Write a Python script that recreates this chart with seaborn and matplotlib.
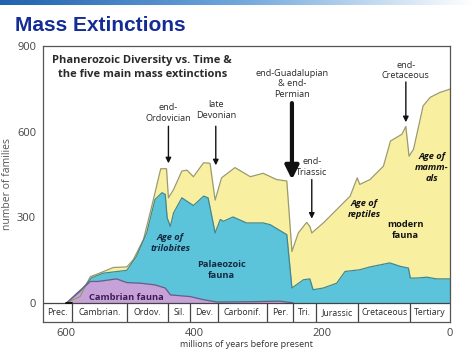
import numpy as np
import matplotlib
matplotlib.use("Agg")
import matplotlib.pyplot as plt
import seaborn as sns
from matplotlib.colors import LinearSegmentedColormap

# ages in millions of years before present, values in number of families
# (each list is the top edge of a stacked layer)
total_ma = [599, 578, 562, 550, 526, 505, 495, 479, 466, 452, 443, 440, 432, 419,
            411, 401, 385, 375, 367, 357, 336, 312, 292, 271, 255, 247, 237, 224,
            219, 216, 198, 177, 156, 145, 141, 125, 104, 93, 75, 69, 64, 57, 42,
            31, 16, 0]
total_fam = [0, 22, 92, 102, 124, 126, 151, 222, 339, 470, 470, 368, 397, 462,
             465, 442, 491, 489, 360, 438, 474, 442, 454, 432, 427, 180, 245, 282,
             268, 245, 280, 327, 374, 438, 415, 432, 479, 567, 591, 618, 514, 538,
             690, 720, 737, 749]

palaeo_ma = [599, 578, 560, 542, 505, 490, 474, 461, 450, 445, 442, 437, 432, 419,
             401, 385, 378, 367, 359, 354, 339, 318, 292, 281, 255, 247, 229, 219,
             214, 198, 177, 164, 141, 125, 94, 78, 65, 62, 52, 36, 21, 0]
palaeo_fam = [0, 40, 88, 104, 114, 163, 245, 362, 386, 380, 298, 268, 315, 368,
              341, 374, 368, 245, 292, 286, 301, 280, 280, 274, 239, 52, 81, 84,
              46, 52, 69, 110, 116, 126, 140, 128, 122, 87, 87, 90, 84, 84]

cambrian_ma = [599, 581, 562, 550, 531, 521, 505, 484, 461, 445, 437, 406, 385,
               364, 312, 266, 245]
cambrian_fam = [0, 38, 75, 75, 81, 84, 71, 69, 63, 52, 28, 22, 11, 3, 4, 6, 0]

period_edges = [636, 590, 505, 440, 407, 362, 286, 246, 210, 143, 62, 0]
period_names = ["Prec.", "Cambrian.", "Ordov.", "Sil.", "Dev.", "Carbonif.",
                "Per.", "Tri.", "Jurassic", "Cretaceous", "Tertiary"]

# extinction arrows: label, age, arrow start, arrow tip, label centre
events = [
    ("end-\nOrdovician", 440, 619, 489, 664),
    ("late\nDevonian", 366, 619, 482, 675),
    ("end-\nTriassic", 216, 432, 295, 477),
    ("end-\nCretaceous", 69, 774, 633, 814),
]
big_event = ("end-Guadalupian\n& end-\nPermian", 247, 700, 432, 767)

sns.set_style("white")
plt.rcParams["font.family"] = ["Open Sans", "DejaVu Sans"]

fig = plt.figure(figsize=(4.74, 3.55), dpi=100)

# gradient strip along the top of the slide
bar = fig.add_axes([0, 1 - 5 / 355, 1, 5 / 355])
grad = LinearSegmentedColormap.from_list("g", ["#2062ae", "#6fa6dc", "#ffffff"])
bar.imshow(np.linspace(0, 1, 256)[None, :], aspect="auto", cmap=grad)
bar.axis("off")

fig.text(15 / 474, 1 - 31 / 355, "Mass Extinctions", family="Liberation Sans",
         weight="bold", fontsize=15, color="#142c95", va="baseline")

ax = fig.add_axes([43 / 474, 33 / 355, 407 / 474, 276 / 355])

yellow, blue, purple = "#f8f0a0", "#5bc3da", "#c7a2d8"
ax.fill_between(total_ma, 0, total_fam, color=yellow, lw=0)
ax.fill_between(palaeo_ma, 0, palaeo_fam, color=blue, lw=0)
ax.fill_between(cambrian_ma, 0, cambrian_fam, color=purple, lw=0)
sns.lineplot(x=total_ma, y=total_fam, sort=False, estimator=None,
             color="#9a9a6a", lw=0.9, ax=ax)
sns.lineplot(x=palaeo_ma, y=palaeo_fam, sort=False, estimator=None,
             color="#3f8792", lw=0.9, ax=ax)
sns.lineplot(x=cambrian_ma, y=cambrian_fam, sort=False, estimator=None,
             color="#6e5a86", lw=0.9, ax=ax)

ax.set_xlim(636, 0)
ax.set_ylim(-67, 900)

# geological period band under the zero line
ax.axhline(0, color="#444444", lw=0.9)
ax.plot([600, 590], [0, 0], color="#111111", lw=1.4)
ax.vlines(period_edges[1:-1], -67, 0, color="#444444", lw=0.9)
for i, name in enumerate(period_names):
    mid = (period_edges[i] + period_edges[i + 1]) / 2
    ax.text(mid, -33, name, ha="center", va="center", fontsize=6.3, color="#2a2a2a")

for label, age, y0, y1, ylab in events:
    ax.annotate("", xy=(age, y1), xytext=(age, y0),
                arrowprops=dict(arrowstyle="-|>", color="#111111", lw=1,
                                mutation_scale=8, shrinkA=0, shrinkB=0))
    ax.text(age, ylab, label, ha="center", va="center", fontsize=6.6,
            color="#2a2a2a", linespacing=1.25)
label, age, y0, y1, ylab = big_event
ax.annotate("", xy=(age, y1), xytext=(age, y0),
            arrowprops=dict(arrowstyle="-|>", color="#111111", lw=3,
                            mutation_scale=20, shrinkA=0, shrinkB=0))
ax.text(age, ylab, label, ha="center", va="center", fontsize=6.6,
        color="#2a2a2a", linespacing=1.25)

ax.text(481, 825, "Phanerozoic Diversity vs. Time &\nthe five main mass extinctions",
        ha="center", va="center", fontsize=8, weight="bold", color="#2a2a2a",
        linespacing=1.3)

navy = "#15293f"
ax.text(437, 209, "Age of\ntrilobites", ha="center", va="center", fontsize=6.7,
        weight="bold", style="italic", color=navy, linespacing=1.3)
ax.text(357, 116, "Palaeozoic\nfauna", ha="center", va="center", fontsize=6.7,
        weight="bold", color=navy, linespacing=1.3)
ax.text(506, 20, "Cambrian fauna", ha="center", va="center", fontsize=6.7,
        weight="bold", color="#3a1d52")
ax.text(134, 329, "Age of\nreptiles", ha="center", va="center", fontsize=6.7,
        weight="bold", style="italic", color="#111111", linespacing=1.3)
ax.text(70, 254, "modern\nfauna", ha="center", va="center", fontsize=6.7,
        weight="bold", color="#111111", linespacing=1.3)
ax.text(28, 474, "Age of\nmamm-\nals", ha="center", va="center", fontsize=6.7,
        weight="bold", style="italic", color="#111111", linespacing=1.3)

ax.set_yticks(range(0, 901, 100))
ax.set_yticklabels([str(v) if v % 300 == 0 else "" for v in range(0, 901, 100)])
ax.set_xticks(range(600, -1, -100))
ax.set_xticklabels([str(v) if v % 200 == 0 else "" for v in range(600, -1, -100)])
ax.tick_params(axis="both", length=3.5, width=0.9, color="#444444",
               labelsize=8, labelcolor="#444444", pad=1.5)
ax.tick_params(axis="x", direction="inout", length=5)
ax.set_ylabel("number of families", fontsize=7.5, color="#555555", labelpad=3)
ax.set_xlabel("millions of years before present", fontsize=6.5, color="#333333",
              labelpad=1)
for s in ax.spines.values():
    s.set_color("#555555")
    s.set_linewidth(0.9)

fig.savefig("out.png", dpi=100)
plt.close(fig)
